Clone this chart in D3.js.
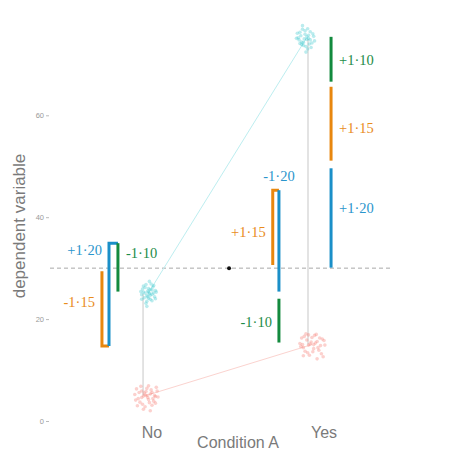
<!DOCTYPE html>
<html><head><meta charset="utf-8">
<script src="https://cdn.jsdelivr.net/npm/d3@7"></script>
<style>body{margin:0;background:#fff}svg{display:block}</style>
</head><body>
<svg id="c" width="474" height="454"></svg>
<script>
// ---- data ----
const categories = ["No", "Yes"];
const yTicks = [0, 20, 40, 60];
const groupMeans = { cyan: [25, 75], pink: [5, 15] };
const meanX = { cyan: [0.977, 1.895], pink: [0.965, 1.93] };
const stemX = [0.948, 1.907];
const grandMean = 30;
const grandMeanX = 1.448;

// jittered raw points [x, value]
const cyanNo = [[0.95,25.3],[0.97,24.6],[0.99,25.8],[1.01,25.1],[0.96,26.2],[0.98,24.1],[1.00,24.9],[1.02,25.6],[0.94,24.8],[0.975,25.5],[0.99,23.9],[0.965,26.8],[1.005,26.3],[0.955,24.2],[0.985,25.0],[1.015,24.4],[0.945,25.9],[0.97,23.5],[0.995,26.9],[1.025,25.3],[0.96,25.1],[0.98,26.0],[1.0,23.6],[0.935,25.4],[0.975,24.4],[1.01,26.6],[0.99,24.7],[0.965,23.1],[0.985,27.4],[0.95,26.5],[1.02,24.0],[0.97,22.5],[1.0,25.7],[0.94,23.9],[0.98,25.3]];
const pinkNo = [[0.90,5.2],[0.92,4.4],[0.94,5.9],[0.96,5.1],[0.98,4.2],[1.00,5.6],[1.02,4.8],[1.03,5.9],[0.91,6.3],[0.93,3.7],[0.95,4.9],[0.97,6.4],[0.99,5.3],[1.01,3.9],[0.955,5.5],[0.975,4.6],[0.995,6.1],[1.015,5.0],[0.905,4.1],[0.925,5.6],[0.945,3.3],[0.965,5.8],[0.985,3.6],[1.005,4.4],[1.025,6.6],[0.935,6.8],[0.96,2.8],[0.98,6.9],[1.0,3.1],[0.915,3.0],[0.95,2.3],[0.99,2.0],[1.02,3.5],[0.94,4.6],[0.97,5.0],[1.035,4.7]];
const cyanYes = [[1.85,75.2],[1.87,74.4],[1.89,75.9],[1.91,75.1],[1.93,74.2],[1.86,76.3],[1.88,73.7],[1.90,74.9],[1.92,76.4],[1.94,75.5],[1.855,74.8],[1.875,76.9],[1.895,73.5],[1.915,74.0],[1.935,76.0],[1.865,75.6],[1.885,75.0],[1.905,77.0],[1.925,73.3],[1.845,76.1],[1.87,73.9],[1.89,76.6],[1.91,75.7],[1.88,74.3],[1.90,75.4],[1.86,74.1],[1.92,74.8],[1.895,72.4],[1.875,77.6],[1.945,74.6],[1.84,75.1],[1.905,73.0]];
const pinkYes = [[1.86,15.2],[1.88,14.4],[1.90,15.9],[1.92,15.1],[1.94,14.2],[1.96,15.6],[1.98,14.8],[2.00,15.8],[1.87,16.3],[1.89,13.7],[1.91,14.9],[1.93,16.4],[1.95,15.3],[1.97,13.9],[1.99,16.1],[1.865,14.6],[1.885,16.6],[1.905,13.4],[1.925,15.5],[1.945,16.8],[1.965,14.4],[1.985,13.2],[2.005,14.9],[1.875,15.0],[1.915,12.9],[1.935,13.6],[1.955,17.0],[1.975,16.3],[1.995,12.6],[1.895,17.1],[1.94,15.0],[1.91,16.9],[1.96,12.2],[1.88,12.8]];

// effect segments: x, from, to, next x (connector), colour key, label, label side, label baseline value
const effects = [
  { x: 0.709, from: 29.4, to: 14.7, nx: 0.750, col: "orange", label: "-1·15", side: "left",  ly: 22.4 },
  { x: 0.750, from: 14.7, to: 34.9, nx: 0.802, col: "blue",   label: "+1·20", side: "left",  ly: 32.6 },
  { x: 0.802, from: 34.9, to: 25.4, nx: null,  col: "green",  label: "-1·10", side: "right", ly: 32.0 },
  { x: 1.702, from: 30.6, to: 45.3, nx: 1.738, col: "orange", label: "+1·15", side: "left",  ly: 36.1 },
  { x: 1.738, from: 45.3, to: 25.4, nx: null,  col: "blue",   label: "-1·20", side: "top",   ly: 47.1 },
  { x: 1.738, from: 24.0, to: 15.4, nx: null,  col: "green",  label: "-1·10", side: "left",  ly: 18.4 },
  { x: 2.041, from: 30.1, to: 49.6, nx: null,  col: "blue",   label: "+1·20", side: "right", ly: 40.8 },
  { x: 2.041, from: 51.1, to: 65.6, nx: null,  col: "orange", label: "+1·15", side: "right", ly: 56.5 },
  { x: 2.041, from: 66.6, to: 75.4, nx: null,  col: "green",  label: "+1·10", side: "right", ly: 69.9 }
];

// ---- styles ----
const colors = { orange: "#e8870e", blue: "#1a8fc8", green: "#138a3e" };
const labelColors = { orange: "#e98c1c", blue: "#2a95cc", green: "#1d8c48" };

const svg = d3.select("#c");
const x = d3.scaleLinear().domain([1, 2]).range([152, 324]);
const y = d3.scaleLinear().domain([0, 60]).range([421, 115.3]);

// y axis
const yAxis = d3.axisLeft(y).tickValues(yTicks).tickSize(3).tickPadding(2);
const ga = svg.append("g").attr("transform", "translate(49,0)").call(yAxis);
ga.select(".domain").remove();
ga.selectAll(".tick line").attr("stroke", "#bbb");
ga.selectAll(".tick text").attr("fill", "#999").style("font-family", "Liberation Sans, Arial, sans-serif").style("font-size", "7.5px");

// dashed grand-mean line
svg.append("line")
  .attr("x1", 50).attr("x2", 393)
  .attr("y1", y(grandMean)).attr("y2", y(grandMean))
  .attr("stroke", "#a8a8a8").attr("stroke-width", 1).attr("stroke-dasharray", "4,3");

// grey stems
svg.selectAll("line.stem").data(categories).enter().append("line")
  .attr("class", "stem")
  .attr("x1", (d, i) => x(stemX[i])).attr("x2", (d, i) => x(stemX[i]))
  .attr("y1", (d, i) => y(groupMeans.pink[i])).attr("y2", (d, i) => y(groupMeans.cyan[i]))
  .attr("stroke", "#dcdcdc").attr("stroke-width", 1.6);

// connecting lines
const lineCols = { cyan: "#bdeef0", pink: "#fbd3cf" };
["cyan", "pink"].forEach(k => {
  svg.append("line")
    .attr("x1", x(meanX[k][0])).attr("y1", y(groupMeans[k][0]))
    .attr("x2", x(meanX[k][1])).attr("y2", y(groupMeans[k][1]))
    .attr("stroke", lineCols[k]).attr("stroke-width", 1);
});

// points
const ptCols = { cyan: "#3cc8ce", pink: "#f77b72" };
[[cyanNo, "cyan"], [cyanYes, "cyan"], [pinkNo, "pink"], [pinkYes, "pink"]].forEach(([arr, k]) => {
  svg.append("g").selectAll("circle").data(arr).enter().append("circle")
    .attr("cx", d => x(d[0])).attr("cy", d => y(d[1])).attr("r", 1.8)
    .attr("fill", ptCols[k]).attr("fill-opacity", 0.35);
});

// grand mean dot
svg.append("circle").attr("cx", x(grandMeanX)).attr("cy", y(grandMean)).attr("r", 2).attr("fill", "#111");

// effect segments
svg.append("g").selectAll("path").data(effects).enter().append("path")
  .attr("d", d => {
    let p = `M${x(d.x)},${y(d.from)}L${x(d.x)},${y(d.to)}`;
    if (d.nx !== null) p += `L${x(d.nx)},${y(d.to)}`;
    return p;
  })
  .attr("fill", "none").attr("stroke", d => colors[d.col]).attr("stroke-width", 3)
  .attr("stroke-linejoin", "miter").attr("stroke-linecap", "butt");

svg.append("g").selectAll("text").data(effects).enter().append("text")
  .attr("x", d => d.side === "left" ? x(d.x) - 7 : d.side === "right" ? x(d.x) + 8 : x(d.x))
  .attr("y", d => y(d.ly))
  .attr("text-anchor", d => d.side === "left" ? "end" : d.side === "right" ? "start" : "middle")
  .attr("fill", d => labelColors[d.col])
  .style("font-family", "Liberation Serif, Times New Roman, serif").style("font-size", "14.5px")
  .text(d => d.label);

// category labels
svg.append("g").selectAll("text").data(categories).enter().append("text")
  .attr("x", (d, i) => x(i + 1)).attr("y", 438)
  .attr("text-anchor", "middle").attr("fill", "#7a7a7a")
  .style("font-family", "Liberation Sans, Arial, sans-serif").style("font-size", "16px")
  .text(d => d);

// axis titles
svg.append("text").attr("x", 238).attr("y", 448).attr("text-anchor", "middle")
  .attr("fill", "#7a7a7a").style("font-family", "Liberation Sans, Arial, sans-serif").style("font-size", "16px")
  .text("Condition A");
svg.append("text").attr("transform", "translate(25,226) rotate(-90)").attr("text-anchor", "middle")
  .attr("fill", "#7a7a7a").style("font-family", "Liberation Sans, Arial, sans-serif").style("font-size", "17px")
  .text("dependent variable");
</script>
</body></html>
